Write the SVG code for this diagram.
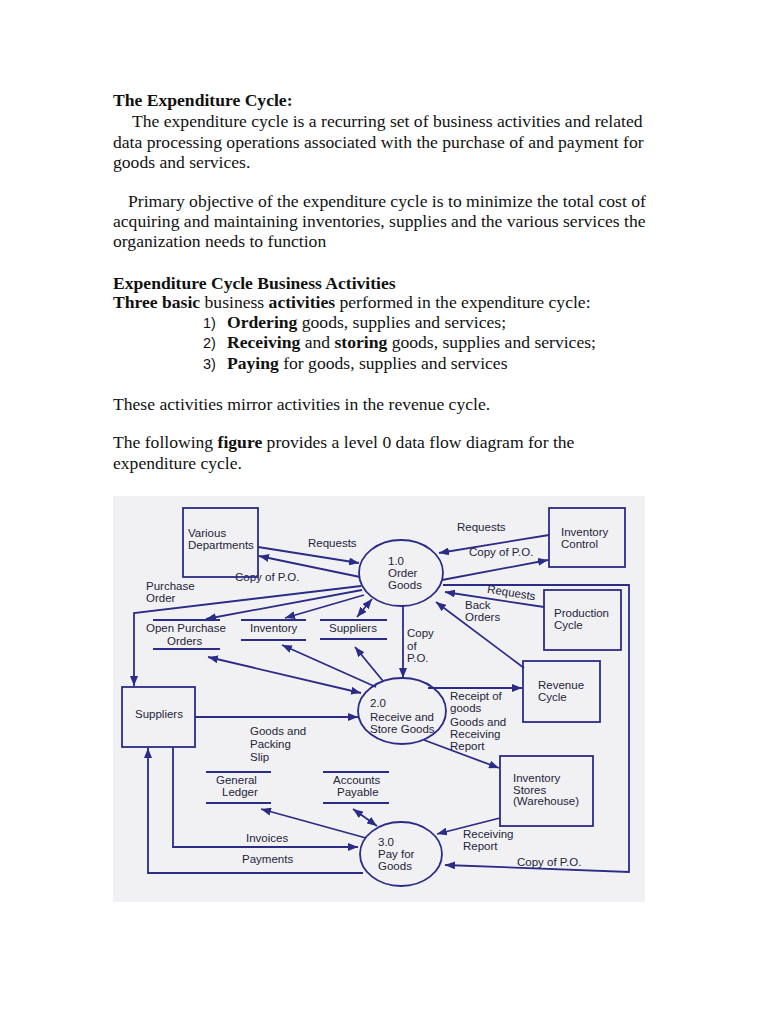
<svg xmlns="http://www.w3.org/2000/svg" width="768" height="1024" viewBox="0 0 768 1024">
<defs>
<style>
.doc{font-family:"Liberation Serif","Times New Roman",serif;font-size:17.6px;fill:#111}
.b{font-weight:bold}
.num{font-family:"Liberation Sans",Arial,sans-serif;font-size:14.5px;fill:#111}
.lbl{font-family:"Liberation Sans",Arial,sans-serif;font-size:11.5px;fill:#24243a}
.box{fill:none;stroke:#2b2b88;stroke-width:1.8}
.st{stroke:#2b2b88;stroke-width:1.8;fill:none}
.ln{stroke:#2b2b88;stroke-width:1.8;fill:none}
.a{marker-end:url(#ah)}
.d{marker-start:url(#ah);marker-end:url(#ah)}
</style>
<marker id="ah" viewBox="0 0 10 8" refX="10" refY="4" markerWidth="10" markerHeight="8" markerUnits="userSpaceOnUse" orient="auto-start-reverse">
<path d="M0,0 L10,4 L0,8 z" fill="#2b2b88"/>
</marker>
</defs>
<rect width="768" height="1024" fill="#ffffff"/>

<g id="text">
<text class="doc b" x="113" y="106">The Expenditure Cycle:</text>
<text class="doc" x="132" y="127">The expenditure cycle is a recurring set of business activities and related</text>
<text class="doc" x="113" y="148">data processing operations associated with the purchase of and payment for</text>
<text class="doc" x="113" y="168">goods and services.</text>
<text class="doc" x="128" y="207">Primary objective of the expenditure cycle is to minimize the total cost of</text>
<text class="doc" x="113" y="227">acquiring and maintaining inventories, supplies and the various services the</text>
<text class="doc" x="113" y="247">organization needs to function</text>
<text class="doc b" x="113" y="289">Expenditure Cycle Business Activities</text>
<text class="doc" x="113" y="308"><tspan class="b">Three basic</tspan> business <tspan class="b">activities</tspan> performed in the expenditure cycle:</text>
<text class="num" x="203" y="328">1)</text>
<text class="doc" x="227" y="328"><tspan class="b">Ordering</tspan> goods, supplies and services;</text>
<text class="num" x="203" y="348">2)</text>
<text class="doc" x="227" y="348"><tspan class="b">Receiving</tspan> and <tspan class="b">storing</tspan> goods, supplies and services;</text>
<text class="num" x="203" y="369">3)</text>
<text class="doc" x="227" y="369"><tspan class="b">Paying</tspan> for goods, supplies and services</text>
<text class="doc" x="113" y="410">These activities mirror activities in the revenue cycle.</text>
<text class="doc" x="113" y="448">The following <tspan class="b">figure</tspan> provides a level 0 data flow diagram for the</text>
<text class="doc" x="113" y="469">expenditure cycle.</text>
</g>

<rect id="figure-bg" x="113" y="496" width="532" height="406" fill="#f1f1f3"/>

<g id="connectors">
<line class="ln a" x1="258" y1="547" x2="359" y2="563"/>
<line class="ln a" x1="360" y1="577" x2="259" y2="556"/>
<polyline class="ln a" points="361,586 134,613 134,686"/>
<line class="ln a" x1="362" y1="590" x2="206" y2="619"/>
<line class="ln a" x1="364" y1="595" x2="285" y2="618"/>
<line class="ln d" x1="357" y1="617" x2="372" y2="599"/>
<line class="ln a" x1="549" y1="535" x2="439" y2="553"/>
<line class="ln a" x1="442" y1="580" x2="548" y2="560"/>
<polyline class="ln a" points="443,585 629,585 629,872 445,865"/>
<line class="ln a" x1="544" y1="607" x2="445" y2="592"/>
<line class="ln a" x1="524" y1="668" x2="436" y2="602"/>
<line class="ln a" x1="403" y1="606" x2="403" y2="678"/>
<line class="ln a" x1="195" y1="717" x2="358" y2="717"/>
<line class="ln d" x1="208" y1="657" x2="361" y2="693"/>
<line class="ln a" x1="376" y1="687" x2="282" y2="645"/>
<line class="ln a" x1="383" y1="681" x2="355" y2="647"/>
<line class="ln a" x1="428" y1="688" x2="522" y2="688"/>
<line class="ln a" x1="424" y1="740" x2="499" y2="768"/>
<line class="ln a" x1="500" y1="818" x2="437" y2="834"/>
<line class="ln d" x1="353" y1="809" x2="377" y2="826"/>
<line class="ln a" x1="366" y1="838" x2="261" y2="809"/>
<polyline class="ln a" points="173,747 173,847 358,847"/>
<polyline class="ln a" points="363,873 148,873 148,748"/>
</g>

<g id="connector-labels">
<text class="lbl" x="308" y="547">Requests</text>
<text class="lbl" x="235" y="581">Copy of P.O.</text>
<text class="lbl" x="146" y="590">Purchase</text>
<text class="lbl" x="146" y="602">Order</text>
<text class="lbl" x="457" y="531">Requests</text>
<text class="lbl" x="469" y="556">Copy of P.O.</text>
<text class="lbl" x="487" y="596" transform="rotate(9 508 593)">Requests</text>
<text class="lbl" x="465" y="609">Back</text>
<text class="lbl" x="465" y="621">Orders</text>
<text class="lbl" x="407" y="637">Copy</text>
<text class="lbl" x="407" y="650">of</text>
<text class="lbl" x="407" y="662">P.O.</text>
<text class="lbl" x="250" y="735">Goods and</text>
<text class="lbl" x="250" y="748">Packing</text>
<text class="lbl" x="250" y="761">Slip</text>
<text class="lbl" x="450" y="700">Receipt of</text>
<text class="lbl" x="450" y="712">goods</text>
<text class="lbl" x="450" y="726">Goods and</text>
<text class="lbl" x="450" y="738">Receiving</text>
<text class="lbl" x="450" y="750">Report</text>
<text class="lbl" x="463" y="838">Receiving</text>
<text class="lbl" x="463" y="850">Report</text>
<text class="lbl" x="246" y="842">Invoices</text>
<text class="lbl" x="242" y="863">Payments</text>
<text class="lbl" x="517" y="866">Copy of P.O.</text>
</g>

<g id="various-departments">
<rect class="box" x="183" y="508" width="75" height="69"/>
<text class="lbl" x="188" y="537">Various</text>
<text class="lbl" x="188" y="549">Departments</text>
</g>
<g id="inventory-control">
<rect class="box" x="549" y="508" width="76" height="59"/>
<text class="lbl" x="561" y="536">Inventory</text>
<text class="lbl" x="561" y="548">Control</text>
</g>
<g id="production-cycle">
<rect class="box" x="544" y="590" width="77" height="60"/>
<text class="lbl" x="554" y="617">Production</text>
<text class="lbl" x="554" y="629">Cycle</text>
</g>
<g id="revenue-cycle">
<rect class="box" x="523" y="661" width="77" height="61"/>
<text class="lbl" x="538" y="689">Revenue</text>
<text class="lbl" x="538" y="701">Cycle</text>
</g>
<g id="inventory-stores">
<rect class="box" x="500" y="756" width="93" height="70"/>
<text class="lbl" x="513" y="782">Inventory</text>
<text class="lbl" x="513" y="794">Stores</text>
<text class="lbl" x="513" y="805">(Warehouse)</text>
</g>
<g id="suppliers">
<rect class="box" x="122" y="687" width="73" height="60"/>
<text class="lbl" x="135" y="718">Suppliers</text>
</g>

<g id="p1-order-goods">
<ellipse class="box" cx="401" cy="573" rx="42" ry="33"/>
<text class="lbl" x="388" y="565">1.0</text>
<text class="lbl" x="388" y="577">Order</text>
<text class="lbl" x="388" y="589">Goods</text>
</g>
<g id="p2-receive-store">
<ellipse class="box" cx="402" cy="711" rx="44" ry="33"/>
<text class="lbl" x="370" y="707">2.0</text>
<text class="lbl" x="370" y="721">Receive and</text>
<text class="lbl" x="370" y="733">Store Goods</text>
</g>
<g id="p3-pay">
<ellipse class="box" cx="401" cy="854" rx="41" ry="32"/>
<text class="lbl" x="378" y="846">3.0</text>
<text class="lbl" x="378" y="858">Pay for</text>
<text class="lbl" x="378" y="870">Goods</text>
</g>

<g id="store-open-purchase-orders">
<line class="st" x1="153" y1="620" x2="220" y2="620"/>
<line class="st" x1="153" y1="649" x2="220" y2="649"/>
<text class="lbl" x="146" y="632">Open Purchase</text>
<text class="lbl" x="167" y="645">Orders</text>
</g>
<g id="store-inventory">
<line class="st" x1="241" y1="620" x2="306" y2="620"/>
<line class="st" x1="241" y1="640" x2="306" y2="640"/>
<text class="lbl" x="250" y="632">Inventory</text>
</g>
<g id="store-suppliers">
<line class="st" x1="320" y1="620" x2="387" y2="620"/>
<line class="st" x1="320" y1="639" x2="387" y2="639"/>
<text class="lbl" x="329" y="632">Suppliers</text>
</g>
<g id="store-general-ledger">
<line class="st" x1="206" y1="772" x2="271" y2="772"/>
<line class="st" x1="206" y1="803" x2="271" y2="803"/>
<text class="lbl" x="216" y="784">General</text>
<text class="lbl" x="222" y="796">Ledger</text>
</g>
<g id="store-accounts-payable">
<line class="st" x1="323" y1="772" x2="389" y2="772"/>
<line class="st" x1="323" y1="803" x2="389" y2="803"/>
<text class="lbl" x="333" y="784">Accounts</text>
<text class="lbl" x="337" y="796">Payable</text>
</g>
</svg>
